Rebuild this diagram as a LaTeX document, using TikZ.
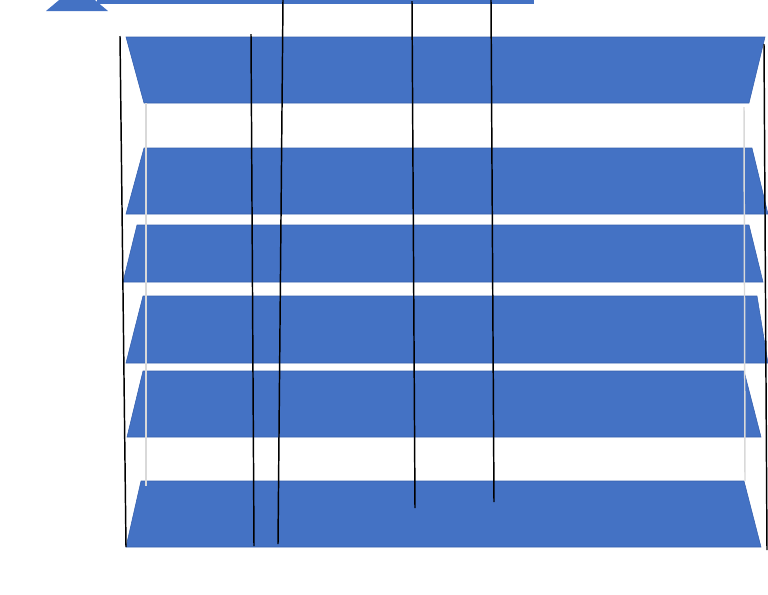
\documentclass[tikz,border=0pt]{standalone}
\definecolor{slab}{HTML}{4472C4}
\definecolor{slabedge}{HTML}{3560AE}
\definecolor{lgray}{HTML}{D9D9D9}
\tikzset{
  slabshape/.style={fill=slab, draw=slabedge, line width=0.4pt},
  post/.style={draw=black, line width=1.1pt},
  lightpost/.style={draw=lgray, line width=1.1pt}
}
\begin{document}
\begin{tikzpicture}[x=0.75pt,y=-0.75pt]
\useasboundingbox (0,0) rectangle (768,594);
\clip (0,0) rectangle (768,594);
% top bar and triangle
\fill[slab] (97,-6) rectangle (534,3.5);
\fill[slab] (46,11) -- (77,-15) -- (108,11) -- cycle;
% slabs
\path[slabshape] (126,37) -- (765,37) -- (749,103) -- (144,103) -- cycle;
\path[slabshape] (144,148) -- (752,148) -- (768,214) -- (126,214) -- cycle;
\path[slabshape] (137,225) -- (749,225) -- (763,282) -- (123,282) -- cycle;
\path[slabshape] (143,296) -- (757,296) -- (768,363) -- (126,363) -- cycle;
\path[slabshape] (143,371) -- (744,371) -- (761,437) -- (127,437) -- cycle;
\path[slabshape] (141,481) -- (744,481) -- (761,547) -- (126,547) -- cycle;
% light posts
\coordinate (g1a) at (146,103); \coordinate (g1b) at (146,486);
\coordinate (g2a) at (744,107); \coordinate (g2b) at (745,481);
\draw[lightpost] (g1a) -- (g1b);
\draw[lightpost] (g2a) -- (g2b);
% black posts
\coordinate (p1a) at (120,36);  \coordinate (p1b) at (126,547);
\coordinate (p2a) at (251,34);  \coordinate (p2b) at (254,546);
\coordinate (p3a) at (283,0);   \coordinate (p3b) at (278,544);
\coordinate (p4a) at (412,1);   \coordinate (p4b) at (415,508);
\coordinate (p5a) at (491,0);   \coordinate (p5b) at (494,502);
\coordinate (p6a) at (764,44);  \coordinate (p6b) at (767,550);
\draw[post] (p1a) -- (p1b);
\draw[post] (p2a) -- (p2b);
\draw[post] (p3a) -- (p3b);
\draw[post] (p4a) -- (p4b);
\draw[post] (p5a) -- (p5b);
\draw[post] (p6a) -- (p6b);
\end{tikzpicture}
\end{document}
